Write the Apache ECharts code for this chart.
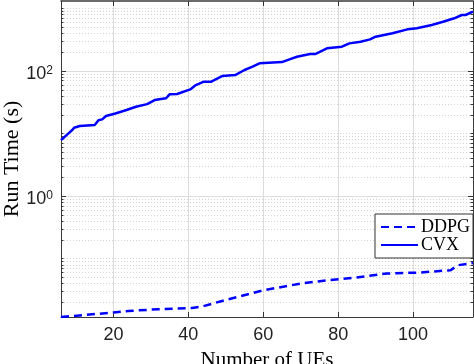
<!DOCTYPE html>
<html><head><meta charset="utf-8">
<script src="https://cdn.jsdelivr.net/npm/echarts@6/dist/echarts.min.js"></script>
<style>html,body{margin:0;padding:0;background:#fff}#c{width:474px;height:364px}</style>
</head><body><div id="c"></div>
<script>
// ---- data ----
const seriesNames = ['DDPG', 'CVX'];
const ddpgUEs = [6, 20, 24, 32, 41, 44, 49, 60, 70, 77, 84, 93, 102, 110, 112, 116];
const ddpgRunTime = [0.0117, 0.0138, 0.0146, 0.0156, 0.0163, 0.0174, 0.0211, 0.0313, 0.0401, 0.0453, 0.0493, 0.058, 0.0602, 0.0655, 0.0787, 0.0857];
const cvxUEs = [6, 8, 9, 9.5, 11, 15, 16, 17, 18, 20.5, 23.5, 26, 29, 31, 34, 35, 37, 40.5, 42, 44, 46, 49, 52.5, 55, 57, 59, 65, 67, 69, 72.5, 74, 77, 81, 83, 86, 88.5, 90, 94.5, 98.5, 101, 105, 108, 111, 113, 114, 116];
const cvxRunTime = [7.87, 10.1, 11.4, 12.4, 13.2, 13.7, 16.4, 16.9, 19.1, 21, 23.8, 26.9, 29.6, 34.4, 36.6, 42.4, 42.9, 50.9, 59.7, 67.4, 67.4, 83.2, 86.3, 104, 117, 133, 139, 154, 169, 187, 188, 231, 245, 277, 294, 321, 354, 401, 464, 482, 545, 615, 697, 787, 787, 889];
const xTickValues = [20, 40, 60, 80, 100];
const yTickValues = [1, 100];
const yTickExponents = ['0', '2'];
const X_MIN = 6, X_MAX = 116, Y_MIN = 0.0117, Y_MAX = 1318;

// ---- helpers ----
const pxPerUnit = 412 / (X_MAX - X_MIN);
const minorVals = [];
for (let e = -3; e <= 4; e++) for (let k = 1; k <= 9; k++) {
  const v = k * Math.pow(10, e);
  if (v > Y_MIN && v < Y_MAX && !yTickValues.some(t => Math.abs(t - v) < 1e-9)) minorVals.push(v);
}
const majorStyle = {color: '#dcdcdc', width: 1, type: 'solid'};
const minorStyle = {color: '#d2d2d2', width: 1, type: [1, 2]};
const tickStyle = {color: '#333', width: 1, type: 'solid'};
const gridLines = [];
yTickValues.forEach(v => gridLines.push({yAxis: v, lineStyle: majorStyle}));
minorVals.forEach(v => gridLines.push({yAxis: v, lineStyle: minorStyle}));
const tickLines = [];
function addTick(v, lenPx) {
  const d = lenPx / pxPerUnit;
  tickLines.push([{coord: [X_MIN, v], lineStyle: tickStyle}, {coord: [X_MIN + d, v]}]);
  tickLines.push([{coord: [X_MAX - d, v], lineStyle: tickStyle}, {coord: [X_MAX, v]}]);
}
yTickValues.forEach(v => addTick(v, 5));
minorVals.forEach(v => addTick(v, 2.5));

const serif = 'Liberation Serif';
const sans = 'Liberation Sans';
const frame = {show: true, onZero: false, lineStyle: {color: '#3a3a3a', width: 1}};

const chart = echarts.init(document.getElementById('c'), null, {renderer: 'canvas'});
chart.setOption({
  animation: false,
  backgroundColor: '#fff',
  grid: {left: 61, right: 1, top: 1, bottom: 47, containLabel: false, outerBoundsMode: 'none'},
  legend: {
    data: seriesNames,
    orient: 'vertical', left: 375, top: 214,
    padding: [4, 3, 4, 5], itemGap: 0, itemWidth: 37, itemHeight: 14,
    backgroundColor: '#fff', borderColor: '#333', borderWidth: 1, borderRadius: 0,
    itemStyle: {opacity: 0},
    textStyle: {fontFamily: serif, fontSize: 18, color: '#000', padding: [0, 0, 0, -2]}
  },
  xAxis: [{
    type: 'value', min: X_MIN, max: X_MAX, position: 'bottom',
    name: 'Number of UEs', nameLocation: 'middle', nameGap: 33, nameMoveOverlap: false,
    nameTextStyle: {fontFamily: serif, fontSize: 21, color: '#000'},
    axisLine: frame,
    axisTick: {show: true, inside: true, length: 5, lineStyle: {color: '#333'}},
    axisLabel: {margin: 9, fontFamily: sans, fontSize: 18, color: '#222',
      formatter: v => xTickValues.includes(v) ? String(v) : '', showMinLabel: false, showMaxLabel: false},
    splitLine: {show: true, lineStyle: {color: '#dcdcdc', width: 1}}
  }, {
    type: 'value', min: X_MIN, max: X_MAX, position: 'top',
    axisLine: {show: true, onZero: false, lineStyle: {color: '#3a3a3a', width: 1.5}},
    axisTick: {show: true, inside: true, length: 5, lineStyle: {color: '#333'}},
    axisLabel: {show: false}, splitLine: {show: false}
  }],
  yAxis: [{
    type: 'log', logBase: 10, min: Y_MIN, max: Y_MAX, position: 'left',
    name: 'Run Time (s)', nameLocation: 'middle', nameGap: 38, nameMoveOverlap: false,
    nameTextStyle: {fontFamily: serif, fontSize: 22, color: '#000'},
    axisLine: frame, axisTick: {show: false},
    axisLabel: {
      margin: 8, showMinLabel: false, showMaxLabel: false,
      formatter: v => {
        const i = yTickValues.findIndex(t => Math.abs(t - v) / t < 1e-6);
        return i < 0 ? '' : '{b|10}{s|' + yTickExponents[i] + '}';
      },
      rich: {
        b: {fontFamily: sans, fontSize: 18, color: '#222', verticalAlign: 'bottom', lineHeight: 24, padding: [8, 0, 0, 0]},
        s: {fontFamily: sans, fontSize: 12, color: '#222', verticalAlign: 'top', lineHeight: 12, padding: [6, 0, 0, 0]}
      }
    },
    splitLine: {show: false}
  }, {
    type: 'log', logBase: 10, min: Y_MIN, max: Y_MAX, position: 'right',
    axisLine: frame, axisTick: {show: false}, axisLabel: {show: false}, splitLine: {show: false}
  }],
  series: [{
    name: 'DDPG', type: 'line', xAxisIndex: 0, yAxisIndex: 0, z: 3,
    data: ddpgUEs.map((x, i) => [x, ddpgRunTime[i]]),
    showSymbol: false, symbol: 'none',
    lineStyle: {color: '#0000ff', width: 2.5, type: [8, 5]},
    itemStyle: {color: '#0000ff'},
    markLine: {silent: true, symbol: ['none', 'none'], z: 1, animation: false,
      label: {show: false}, emphasis: {disabled: true}, data: gridLines}
  }, {
    name: 'CVX', type: 'line', xAxisIndex: 0, yAxisIndex: 0, z: 3,
    data: cvxUEs.map((x, i) => [x, cvxRunTime[i]]),
    showSymbol: false, symbol: 'none',
    lineStyle: {color: '#0000ff', width: 2.5},
    itemStyle: {color: '#0000ff'},
    markLine: {silent: true, symbol: ['none', 'none'], z: 2, animation: false,
      label: {show: false}, emphasis: {disabled: true}, data: tickLines}
  }]
});
</script>
</body></html>
